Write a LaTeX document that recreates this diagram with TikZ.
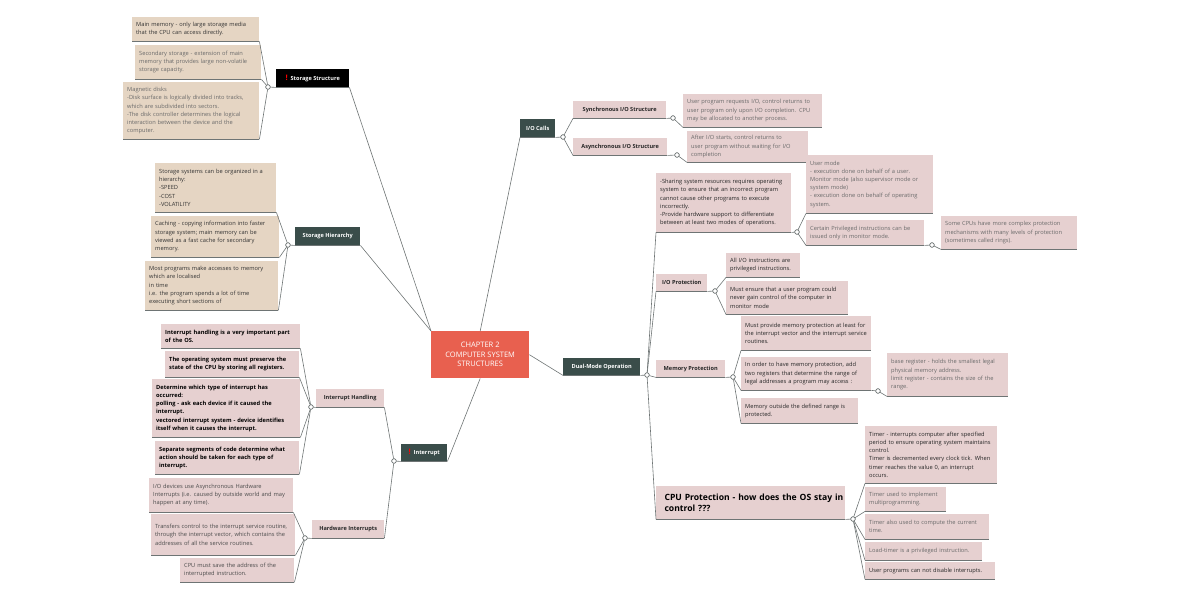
\documentclass[tikz,border=0pt]{standalone}
\usepackage{fontspec}
\setmainfont{Open Sans}
\hyphenpenalty=10000 \exhyphenpenalty=10000
\definecolor{beige}{HTML}{E5D5C3}
\definecolor{pinkb}{HTML}{E6D0D0}
\definecolor{darkb}{HTML}{3A4D4A}
\definecolor{redc}{HTML}{E8604F}
\definecolor{lineg}{HTML}{6E7474}
\definecolor{txtg}{HTML}{6A6A6A}
\tikzset{
 bx/.style={inner sep=0pt,anchor=north west,fill=#1},
 lnk/.style={draw=lineg,line width=0.6pt},
 jn/.style={circle,draw=lineg,fill=white,inner sep=0pt,minimum size=4.5pt,line width=0.6pt},
}
\newcommand\mmbox[8]{%
 \node[bx=#6,minimum width=#4pt,minimum height=#5pt] (#1) at (#2,#3) {};
 \node[anchor=west,inner sep=0pt,text width=#4pt-8pt,align=left,font=\fontsize{5.7}{8.2}\selectfont,text=#7] at ([xshift=4pt]#1.west) {\hyphenpenalty=10000 #8};
 \draw[lineg,line width=0.8pt] (#1.south west) -- (#1.south east);}
\begin{document}
\begin{tikzpicture}[x=1pt,y=-1pt]
\useasboundingbox (0,0) rectangle (1200,600);
% central
\node[bx=redc,minimum width=98pt,minimum height=47pt] (c) at (431,331) {};
\node[text=white,align=center,font=\fontsize{7.5}{9.5}\selectfont] at (c.center) {CHAPTER 2\\COMPUTER SYSTEM\\STRUCTURES};
% storage structure
\node[bx=black,minimum width=73pt,minimum height=18pt] (ss) at (276,69) {};
\node[font=\fontsize{5.6}{7}\selectfont\bfseries,text=white] at (ss.center) {\textcolor{red}{\fontsize{7.5}{8}\selectfont !}\ \ Storage Structure};
\draw[lineg,line width=0.8pt] (ss.south west) -- (ss.south east);
\node[jn] (jss) at (268,87) {};
\mmbox{s1}{132}{17}{127}{24}{beige}{black!80}{Main memory - only large storage media that the CPU can access directly.}
\mmbox{s2}{135}{45}{126}{34}{beige}{txtg}{Secondary storage - extension of main memory that provides large non-volatile storage capacity.}
\mmbox{s3}{123}{82}{136}{57}{beige}{txtg}{Magnetic disks\\-Disk surface is logically divided into tracks, which are subdivided into sectors.\\-The disk controller determines the logical interaction between the device and the computer.}
% storage hierarchy
\node[bx=darkb,minimum width=65pt,minimum height=18pt] (sh) at (295,227) {};
\node[font=\fontsize{5.6}{7}\selectfont\bfseries,text=white] at (sh.center) {Storage Hierarchy};
\draw[lineg,line width=0.8pt] (sh.south west) -- (sh.south east);
\node[jn] (jsh) at (288,245) {};
\mmbox{h1}{155}{163}{121}{49}{beige}{black!80}{Storage systems can be organized in a hierarchy:\\-SPEED\\-COST\\-VOLATILITY}
\mmbox{h2}{151}{216}{128}{41}{beige}{black!80}{Caching - copying information into faster storage system; main memory can be viewed as a fast cache for secondary memory.}
\mmbox{h3}{145}{261}{133}{49}{beige}{black!80}{Most programs make accesses to memory which are localised\\in time\\i.e. the program spends a lot of time executing short sections of}
% interrupt
\node[bx=darkb,minimum width=46pt,minimum height=17pt] (it) at (401,444) {};
\node[font=\fontsize{5.6}{7}\selectfont\bfseries,text=white] at (it.center) {\textcolor{red}{\fontsize{7.5}{8}\selectfont !}\ \ Interrupt};
\draw[lineg,line width=0.8pt] (it.south west) -- (it.south east);
\node[jn] (jit) at (394,461) {};
\node[bx=pinkb,minimum width=68pt,minimum height=18pt] (ih) at (316,389) {};
\node[font=\fontsize{5.6}{7}\selectfont\bfseries,text=black!85] at (ih.center) {Interrupt Handling};
\draw[lineg,line width=0.8pt] (ih.south west) -- (ih.south east);
\node[jn] (jih) at (311,407) {};
\node[bx=pinkb,minimum width=72pt,minimum height=18pt] (hi) at (312,520) {};
\node[font=\fontsize{5.6}{7}\selectfont\bfseries,text=black!85] at (hi.center) {Hardware Interrupts};
\draw[lineg,line width=0.8pt] (hi.south west) -- (hi.south east);
\node[jn] (jhi) at (305,538) {};
\mmbox{i1}{161}{324}{139}{24}{pinkb}{black}{\bfseries Interrupt handling is a very important part of the OS.}
\mmbox{i2}{165}{351}{134}{26}{pinkb}{black}{\bfseries The operating system must preserve the state of the CPU by storing all registers.}
\mmbox{i3}{152}{379}{148}{58}{pinkb}{black}{\bfseries Determine which type of interrupt has occurred:\\polling - ask each device if it caused the interrupt.\\vectored interrupt system - device identifies itself when it causes the interrupt.}
\mmbox{i4}{155}{441}{144}{33}{pinkb}{black}{\bfseries Separate segments of code determine what action should be taken for each type of interrupt.}
\mmbox{i5}{149}{478}{144}{34}{pinkb}{black!70}{I/O devices use Asynchronous Hardware Interrupts (i.e. caused by outside world and may happen at any time).}
\mmbox{i6}{151}{514}{144}{41}{pinkb}{black!70}{Transfers control to the interrupt service routine, through the interrupt vector, which contains the addresses of all the service routines.}
\mmbox{i7}{180}{558}{114}{24}{pinkb}{black!70}{CPU must save the address of the interrupted instruction.}
% I/O calls
\node[bx=darkb,minimum width=35pt,minimum height=18pt] (ioc) at (520,119) {};
\node[font=\fontsize{5.6}{7}\selectfont\bfseries,text=white] at (ioc.center) {I/O Calls};
\draw[lineg,line width=0.8pt] (ioc.south west) -- (ioc.south east);
\node[jn] (jioc) at (563,137) {};
\node[bx=pinkb,minimum width=93pt,minimum height=17pt] (sy) at (573,101) {};
\node[font=\fontsize{5.6}{7}\selectfont\bfseries,text=black!85] at (sy.center) {Synchronous I/O Structure};
\draw[lineg,line width=0.8pt] (sy.south west) -- (sy.south east);
\node[jn] (jsy) at (673,118) {};
\node[bx=pinkb,minimum width=94pt,minimum height=17pt] (as) at (573,138) {};
\node[font=\fontsize{5.6}{7}\selectfont\bfseries,text=black!85] at (as.center) {Asynchronous I/O Structure};
\draw[lineg,line width=0.8pt] (as.south west) -- (as.south east);
\node[jn] (jas) at (677,155) {};
\mmbox{y1}{683}{94}{139}{33}{pinkb}{txtg}{User program requests I/O, control returns to user program only upon I/O completion. CPU may be allocated to another process.}
\mmbox{a1}{687}{131}{121}{31}{pinkb}{txtg}{After I/O starts, control returns to user program without waiting for I/O completion}
% dual mode
\node[bx=darkb,minimum width=77pt,minimum height=17pt] (dm) at (563,358) {};
\node[font=\fontsize{5.6}{7}\selectfont\bfseries,text=white] at (dm.center) {Dual-Mode Operation};
\draw[lineg,line width=0.8pt] (dm.south west) -- (dm.south east);
\node[jn] (jdm) at (647,375) {};
\mmbox{d1}{656}{173}{135}{59}{pinkb}{black!85}{-Sharing system resources requires operating system to ensure that an incorrect program cannot cause other programs to execute incorrectly.\\-Provide hardware support to differentiate between at least two modes of operations.}
\node[jn] (jd1) at (797,232) {};
\mmbox{d2}{806}{155}{127}{58}{pinkb}{txtg}{User mode\\- execution done on behalf of a user.\\Monitor mode (also supervisor mode or system mode)\\- execution done on behalf of operating system.}
\mmbox{d3}{806}{220}{118}{25}{pinkb}{txtg}{Certain Privileged instructions can be issued only in monitor mode.}
\node[jn] (jd3) at (932,245) {};
\mmbox{d4}{941}{216}{136}{33}{pinkb}{txtg}{Some CPUs have more complex protection mechanisms with many levels of protection (sometimes called rings).}
\node[bx=pinkb,minimum width=51pt,minimum height=17pt] (iop) at (656,274) {};
\node[font=\fontsize{5.6}{7}\selectfont\bfseries,text=black!85] at (iop.center) {I/O Protection};
\draw[lineg,line width=0.8pt] (iop.south west) -- (iop.south east);
\node[jn] (jiop) at (715,291) {};
\mmbox{p1}{726}{253}{74}{24}{pinkb}{black!85}{All I/O instructions are privileged instructions.}
\mmbox{p2}{726}{281}{122}{33}{pinkb}{black!85}{Must ensure that a user program could never gain control of the computer in monitor mode}
\node[bx=pinkb,minimum width=69pt,minimum height=17pt] (mp) at (656,360) {};
\node[font=\fontsize{5.6}{7}\selectfont\bfseries,text=black!85] at (mp.center) {Memory Protection};
\draw[lineg,line width=0.8pt] (mp.south west) -- (mp.south east);
\node[jn] (jmp) at (733,377) {};
\mmbox{m1}{741}{316}{130}{34}{pinkb}{black!85}{Must provide memory protection at least for the interrupt vector and the interrupt service routines.}
\mmbox{m2}{741}{357}{130}{33}{pinkb}{black!85}{In order to have memory protection, add two registers that determine the range of legal addresses a program may access :}
\node[jn] (jm2) at (878,391) {};
\mmbox{m3}{887}{353}{121}{43}{pinkb}{txtg}{base register - holds the smallest legal physical memory address.\\limit register - contains the size of the range.}
\mmbox{m4}{741}{398}{117}{25}{pinkb}{black!85}{Memory outside the defined range is protected.}
\node[bx=pinkb,minimum width=189pt,minimum height=33pt] (cp) at (656,486) {};
\node[anchor=west,text width=180pt,align=left,font=\fontsize{8.6}{11}\selectfont\bfseries,text=black] at ([xshift=5pt]cp.west) {CPU Protection - how does the OS stay in control ???};
\draw[lineg,line width=0.8pt] (cp.south west) -- (cp.south east);
\node[jn] (jcp) at (853,519) {};
\mmbox{t1}{865}{426}{132}{57}{pinkb}{black!85}{Timer - interrupts computer after specified period to ensure operating system maintains control.\\Timer is decremented every clock tick. When timer reaches the value 0, an interrupt occurs.}
\mmbox{t2}{865}{487}{81}{24}{pinkb}{txtg}{Timer used to implement multiprogramming.}
\mmbox{t3}{865}{514}{124}{25}{pinkb}{txtg}{Timer also used to compute the current time.}
\mmbox{t4}{865}{542}{117}{18}{pinkb}{txtg}{Load-timer is a privileged instruction.}
\mmbox{t5}{865}{562}{130}{17}{pinkb}{black!85}{User programs can not disable interrupts.}
% connectors
\begin{scope}[lnk]
\draw (c.north west) -- (ss.south east);
\draw (c.north west) -- (sh.south east);
\draw (c.south) -- (it.south east);
\draw (c.north) -- (ioc.south west);
\draw (c.east) -- (dm.south west);
\draw (ss.south west) -- (jss); \draw (jss) -- (s1.south east); \draw (jss) -- (s2.south east); \draw (jss) -- (s3.south east);
\draw (sh.south west) -- (jsh); \draw (jsh) -- (h1.south east); \draw (jsh) -- (h2.south east); \draw (jsh) -- (h3.south east);
\draw (it.south west) -- (jit); \draw (jit) -- (ih.south east); \draw (jit) -- (hi.south east);
\draw (ih.south west) -- (jih); \foreach \n in {i1,i2,i3,i4} \draw (jih) -- (\n.south east);
\draw (hi.south west) -- (jhi); \foreach \n in {i5,i6,i7} \draw (jhi) -- (\n.south east);
\draw (ioc.south east) -- (jioc); \draw (jioc) -- (sy.south west); \draw (jioc) -- (as.south west);
\draw (sy.south east) -- (jsy); \draw (jsy) -- (y1.south west);
\draw (as.south east) -- (jas); \draw (jas) -- (a1.south west);
\draw (dm.south east) -- (jdm); \foreach \n in {d1,iop,mp,cp} \draw (jdm) -- (\n.south west);
\draw (d1.south east) -- (jd1); \draw (jd1) -- (d2.south west); \draw (jd1) -- (d3.south west);
\draw (d3.south east) -- (jd3); \draw (jd3) -- (d4.south west);
\draw (iop.south east) -- (jiop); \draw (jiop) -- (p1.south west); \draw (jiop) -- (p2.south west);
\draw (mp.south east) -- (jmp); \foreach \n in {m1,m2,m4} \draw (jmp) -- (\n.south west);
\draw (m2.south east) -- (jm2); \draw (jm2) -- (m3.south west);
\draw (cp.south east) -- (jcp); \foreach \n in {t1,t2,t3,t4,t5} \draw (jcp) -- (\n.south west);
\end{scope}
\foreach \j in {jss,jsh,jit,jih,jhi,jioc,jsy,jas,jdm,jd1,jd3,jiop,jmp,jm2,jcp} \node[jn] at (\j) {};
\end{tikzpicture}
\end{document}
